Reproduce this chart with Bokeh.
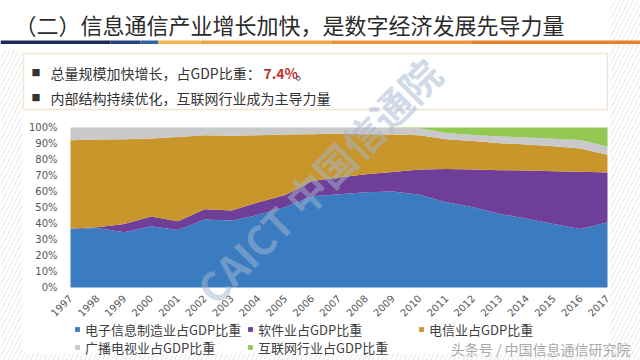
from math import pi
from bokeh.plotting import figure
from bokeh.models import (ColumnDataSource, Range1d, FixedTicker, PrintfTickFormatter,
                          Label, BoxAnnotation, Legend, LegendItem)
from bokeh.embed import file_html
from bokeh.resources import INLINE

# ---------------- data (share of each sector, %) ----------------
years = list(range(1997, 2018))
electronics = [36.6, 37.2, 34.5, 38.3, 36.0, 42.5, 41.8, 45.4, 50.3, 57.0, 58.3, 59.5,
               60.0, 58.0, 53.3, 50.2, 46.0, 42.9, 39.7, 36.6, 40.8]
software = [0.2, 0.4, 5.2, 6.1, 5.4, 6.4, 6.3, 7.9, 7.5, 9.5, 10.5, 11.3,
            12.2, 15.8, 20.7, 23.5, 27.3, 30.2, 33.0, 35.7, 31.1]
telecom = [55.2, 54.9, 53.0, 48.7, 52.7, 46.3, 46.7, 41.9, 37.8, 29.3, 27.4, 25.0,
           23.4, 21.4, 18.7, 17.8, 16.9, 16.3, 15.6, 14.6, 11.1]
broadcast = [8.0, 7.5, 7.3, 6.9, 5.9, 4.8, 5.2, 4.8, 4.4, 4.2, 3.8, 4.2,
             4.2, 4.3, 3.8, 3.8, 4.2, 4.4, 4.7, 5.3, 4.9]
internet = [0.0, 0.0, 0.0, 0.0, 0.0, 0.0, 0.0, 0.0, 0.0, 0.0, 0.0, 0.0,
            0.2, 0.5, 3.5, 4.7, 5.6, 6.2, 7.0, 7.8, 12.1]

series_keys = ["electronics", "software", "telecom", "broadcast", "internet"]
series_names = ["电子信息制造业占GDP比重", "软件业占GDP比重", "电信业占GDP比重",
                "广播电视业占GDP比重", "互联网行业占GDP比重"]
colors = ["#3B7CC1", "#6E3E98", "#C9962B", "#C9C9CB", "#93C952"]
y_ticks = [0, 10, 20, 30, 40, 50, 60, 70, 80, 90, 100]

title_text = "（二）信息通信产业增长加快，是数字经济发展先导力量"
bullet1_a = "总量规模加快增长，占GDP比重："
bullet1_b = "7.4%"
bullet1_c = "。"
bullet2 = "内部结构持续优化，互联网行业成为主导力量"
watermark = "CAICT 中国信通院"
source_note = "头条号 / 中国信息通信研究院"

CJK = "Noto Sans CJK SC"

source = ColumnDataSource(dict(year=years, electronics=electronics, software=software,
                               telecom=telecom, broadcast=broadcast, internet=internet))

# Layout (page pixels): canvas spans 0..640 x 0..360.
# Chart area: 1997 -> x 70, 2017 -> x 607, 0% -> y 287, 100% -> y 127
W, H = 640, 360
PX_YEAR = (607 - 70) / (2017 - 1997)
PX_PCT = (287 - 127) / 100.0
x_start = 1997 - 70 / PX_YEAR
x_end = x_start + W / PX_YEAR
y_start = -(H - 287) / PX_PCT
y_end = y_start + H / PX_PCT

def sx(x):
    return x
def sy(y):
    return H - y

p = figure(width=W, height=H, output_backend="svg", toolbar_location=None,
           x_range=Range1d(x_start, x_end), y_range=Range1d(y_start, y_end),
           min_border=0, title_location=None)
p.outline_line_color = None
p.grid.visible = False
p.background_fill_color = "white"
p.border_fill_color = "white"

renderers = p.varea_stack(stackers=series_keys, x="year", color=colors, source=source)

# axes placed at the chart's edges
p.xaxis.fixed_location = 0
p.yaxis.fixed_location = 1997
p.xaxis.ticker = FixedTicker(ticks=years)
p.xaxis.major_label_orientation = pi / 4
p.yaxis.ticker = FixedTicker(ticks=y_ticks)
p.yaxis.formatter = PrintfTickFormatter(format="%d%%")
for ax in (p.xaxis, p.yaxis):
    ax.axis_line_color = None
    ax.major_tick_line_color = None
    ax.minor_tick_line_color = None
    ax.major_tick_out = 0
    ax.major_tick_in = 0
    ax.major_label_text_font = "DejaVu Sans"
    ax.major_label_text_font_size = "10px"
    ax.major_label_text_color = "#555555"
p.yaxis.major_label_standoff = 13
p.xaxis.major_label_standoff = 9

def box(l, r, t, b, **kw):
    return BoxAnnotation(left=sx(l), right=sx(r), top=sy(t), bottom=sy(b),
                         left_units="screen", right_units="screen", top_units="screen",
                         bottom_units="screen", **kw)

# background stripes and white panels
p.add_layout(box(0, 640, 0, 360, fill_color="white", fill_alpha=1, line_color=None,
                 hatch_pattern="/", hatch_color="#e6e6e6", hatch_scale=9,
                 hatch_weight=1, level="underlay"))
p.add_layout(box(22, 610, 0, 353, fill_color="white", fill_alpha=1, line_color=None,
                 level="underlay"))
p.add_layout(box(0, 610, 0, 50, fill_color="white", fill_alpha=1, line_color=None,
                 level="underlay"))

# title line with gradient-like segments
segs = [(0, 110, "#1E2A56"), (110, 140, "#26427E"), (140, 158, "#3462A6"),
        (158, 200, "#F3B552"), (200, 330, "#F1A444"), (330, 470, "#ED9238"), (470, 640, "#E8812E")]
for a, b, c in segs:
    p.add_layout(box(a, b, 40, 43.5, fill_color=c, fill_alpha=1, line_color=None))

def label(x, y, text, **kw):
    return Label(x=sx(x), y=sy(y), x_units="screen", y_units="screen", text=text,
                 text_font=CJK, text_baseline="middle", **kw)

p.add_layout(label(14, 23, title_text, text_font_size="22px", text_color="#2b2b2b"))

# bullet box
p.add_layout(box(23, 607, 53, 109, fill_color="white", fill_alpha=1,
                 line_color="#D8A86F", line_width=1.5))
for yy in (72, 97):
    p.add_layout(label(35.5, yy, "■", text_font_size="9px", text_color="#333333",
                       text_align="center"))
p.add_layout(label(50, 72, bullet1_a, text_font_size="14px", text_color="#333333"))
p.add_layout(label(263, 72, bullet1_b, text_font_size="14px", text_color="#C0332D",
                   text_font_style="bold"))
p.add_layout(label(295, 72, bullet1_c, text_font_size="14px", text_color="#333333"))
p.add_layout(label(50, 97, bullet2, text_font_size="14px", text_color="#333333"))

# watermark
p.add_layout(label(318, 180, watermark, text_font_size="40px", text_font_style="bold",
                   text_color="#A4B6D0", text_alpha=0.5, angle=pi / 4,
                   text_align="center"))

# legends: one per item, at reference positions
legend_pos = [(74, 329), (247, 329), (418, 329), (74, 347), (247, 347)]
for i in range(len(series_names)):
    gx, gy = legend_pos[i]
    lg = Legend(items=[LegendItem(label=series_names[i], renderers=[renderers[i]])],
                location=(sx(gx), sy(gy) - 10), padding=0, margin=0, spacing=0,
                glyph_width=6, glyph_height=6, label_height=20, label_standoff=5,
                label_text_font=CJK, label_text_font_size="13px",
                label_text_color="#404040", border_line_color=None,
                background_fill_alpha=0)
    p.add_layout(lg)

p.add_layout(label(630, 348, source_note, text_font_size="14px", text_color="#A8A8A8",
                   text_align="right"))

open("out.html", "w").write(file_html(p, INLINE))
